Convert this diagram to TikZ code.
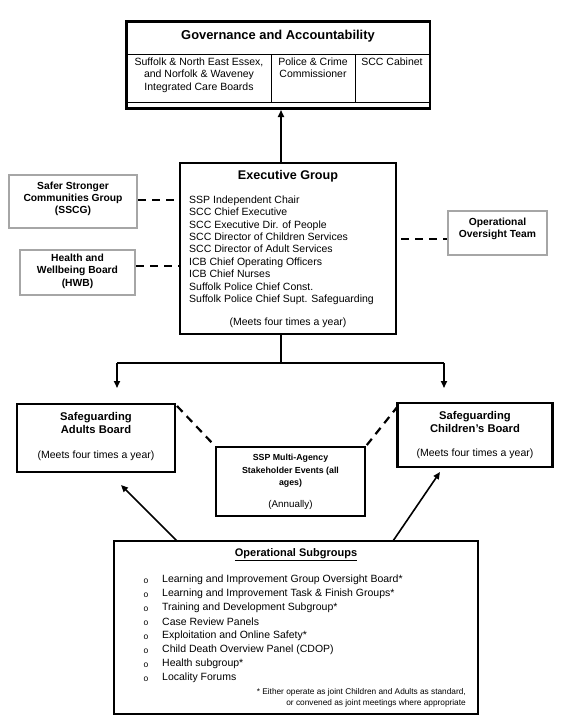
\documentclass[tikz,border=0pt]{standalone}
\usepackage{fontspec}
\setmainfont{Liberation Sans}
\usetikzlibrary{arrows.meta}
\tikzset{
  x=1pt,y=1pt,
  thickbox/.style={draw=black,line width=2.6pt,fill=white,inner sep=0pt},
  graybox/.style={draw=black!35,line width=2.6pt,fill=white,inner sep=0pt},
  thinline/.style={draw=black,line width=0.8pt},
  dashlink/.style={draw=black,line width=2.2pt,dash pattern=on 8pt off 6pt},
  arrowlink/.style={draw=black,line width=1.6pt,-{Triangle[length=7pt,width=6pt]}},
  plainlink/.style={draw=black,line width=1.6pt},
  txt/.style={inner sep=0pt,font=\fontsize{10.5}{12.4}\selectfont,align=center},
  btxt/.style={inner sep=0pt,font=\fontsize{11.2}{12.8}\selectfont\bfseries,align=center},
}
\begin{document}
\begin{tikzpicture}
\useasboundingbox (0,0) rectangle (570,-718);
% ---------- Governance box ----------
\node[thickbox,minimum width=303.5pt,minimum height=87pt] (gov) at (278.25,-65) {};
\draw[thinline] (127,-54) -- (430,-54);
\draw[thinline] (127,-102) -- (430,-102);
\draw[thinline] (271,-54) -- (271,-102);
\draw[thinline] (355,-54) -- (355,-102);
\node[btxt,font=\fontsize{12.9}{15}\selectfont\bfseries] (govt) at (278,-36) {Governance and Accountability};
\node[txt,anchor=north] (icb) at (199,-57.5) {Suffolk \& North East Essex,\\and Norfolk \& Waveney\\Integrated Care Boards};
\node[txt,anchor=north] (pcc) at (313,-57.5) {Police \& Crime\\Commissioner};
\node[txt,anchor=north] (cab) at (392,-57.5) {SCC Cabinet};
% ---------- Executive group ----------
\node[thickbox,minimum width=216pt,minimum height=171pt] (exec) at (288,-248.5) {};
\node[btxt,font=\fontsize{12.6}{15}\selectfont\bfseries] (exect) at (288,-176) {Executive Group};
\node[txt,align=left,anchor=north west] (execl) at (189,-195.5) {SSP Independent Chair\\SCC Chief Executive\\SCC Executive Dir. of People\\SCC Director of Children Services\\SCC Director of Adult Services\\ICB Chief Operating Officers\\ICB Chief Nurses\\Suffolk Police Chief Const.\\Suffolk Police Chief Supt. Safeguarding};
\node[txt] (execm) at (288,-323) {(Meets four times a year)};
\coordinate (exectop) at (281,-163);
\coordinate (govbot) at (281,-110);
\draw[arrowlink] (exectop) -- (govbot);
% ---------- Side boxes ----------
\node[graybox,minimum width=128pt,minimum height=53pt] (sscg) at (73,-201.5) {};
\node[btxt,font=\fontsize{10.3}{12.2}\selectfont\bfseries] (sscgt) at (73,-199) {Safer Stronger\\Communities Group\\(SSCG)};
\node[graybox,minimum width=115pt,minimum height=45pt] (hwb) at (77.5,-272.5) {};
\node[btxt,font=\fontsize{10.3}{12.6}\selectfont\bfseries] (hwbt) at (77.5,-271) {Health and\\Wellbeing Board\\(HWB)};
\node[graybox,minimum width=99pt,minimum height=44pt] (oot) at (497.5,-233) {};
\node[btxt,font=\fontsize{10.3}{12.6}\selectfont\bfseries] (oott) at (497.5,-229) {Operational\\Oversight Team};
\draw[dashlink] (sscg.east |- 0,-200) -- (exec.west |- 0,-200);
\draw[dashlink] (hwb.east |- 0,-266) -- (exec.west |- 0,-266);
\draw[dashlink] (exec.east |- 0,-239) ++(4,0) -- (oot.west |- 0,-239);
% ---------- Boards ----------
\node[thickbox,minimum width=158pt,minimum height=68pt] (sab) at (96,-438) {};
\node[btxt] (sabt) at (96,-423) {Safeguarding\\Adults Board};
\node[txt] (sabm) at (96,-456) {(Meets four times a year)};
\node[thickbox,minimum width=155pt,minimum height=64pt] (scb) at (475,-435) {};
\node[btxt] (scbt) at (475,-422) {Safeguarding\\Children’s Board};
\node[txt] (scbm) at (475,-454) {(Meets four times a year)};
\node[thickbox,minimum width=149pt,minimum height=69pt] (ssp) at (290.5,-481.5) {};
\node[btxt,font=\fontsize{8.8}{12.4}\selectfont\bfseries] (sspt) at (290.5,-471) {SSP Multi-Agency\\Stakeholder Events (all\\ages)};
\node[txt,font=\fontsize{9.8}{12}\selectfont] (sspm) at (290.5,-505) {(Annually)};
\draw[dashlink] (177,-406) -- (ssp.north west);
\draw[dashlink] (398,-406) -- (ssp.north east);
% ---------- Executive to boards ----------
\coordinate (execbot) at (281,-334);
\coordinate (split) at (281,-363);
\coordinate (splitl) at (117,-363);
\coordinate (splitr) at (444,-363);
\coordinate (sabin) at (117,-388);
\coordinate (scbin) at (444,-388);
\draw[plainlink] (execbot) -- (split);
\draw[line width=1.2pt] (splitl) -- (splitr);
\draw[arrowlink] (splitl) -- (sabin);
\draw[arrowlink] (splitr) -- (scbin);
% ---------- Operational subgroups ----------
\node[thickbox,minimum width=364pt,minimum height=173pt] (ops) at (296,-627.5) {};
\node[btxt,font=\fontsize{11}{13}\selectfont\bfseries] (opst) at (296,-554.5) {\underline{Operational Subgroups}};
\foreach \t [count=\i from 0] in {Learning and Improvement Group Oversight Board*,
  Learning and Improvement Task \& Finish Groups*,
  Training and Development Subgroup*,
  Case Review Panels,
  Exploitation and Online Safety*,
  Child Death Overview Panel (CDOP),
  Health subgroup*,
  Locality Forums}{
  \node[txt,font=\fontsize{8.5}{10}\selectfont] (b\i) at (146,-581-14*\i) {o};
  \node[txt,anchor=west] (it\i) at (162,-579.5-14*\i) {\t};
}
\node[txt,font=\fontsize{8.3}{11.5}\selectfont,align=right,anchor=east] (foot) at (466,-698) {* Either operate as joint Children and Adults as standard,\\or convened as joint meetings where appropriate};
\coordinate (opsl) at (177,-541);
\coordinate (opsr) at (393,-541);
\coordinate (sabarr) at (121,-485);
\coordinate (scbarr) at (440,-472);
\draw[arrowlink] (opsl) -- (sabarr);
\draw[arrowlink] (opsr) -- (scbarr);
\end{tikzpicture}
\end{document}
